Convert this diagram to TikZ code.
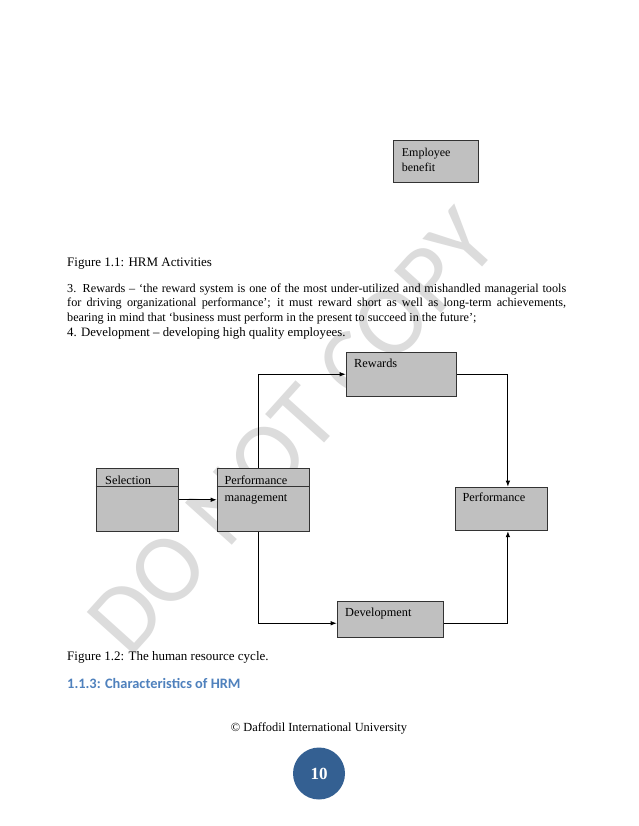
\documentclass[tikz,border=0pt]{standalone}
\usepackage{fontspec}
\setmainfont{Liberation Serif}
\newfontfamily\headfont{Carlito}
\usepackage{xcolor}
\usetikzlibrary{arrows.meta, calc, positioning}
\definecolor{boxgray}{RGB}{192,192,192}
\definecolor{headblue}{RGB}{79,129,189}
\definecolor{pageblue}{RGB}{52,96,146}
\definecolor{markgray}{RGB}{220,220,220}

\begin{document}
\begin{tikzpicture}[x=1pt, y=-1pt, >={Latex[length=6pt,width=4.5pt]},
    box/.style={draw=black!80, line width=1.1pt, fill=boxgray, anchor=north west, inner sep=0pt},
    lbl/.style={anchor=base west, inner sep=0pt, font=\fontsize{12.3}{14}\selectfont},
    txt/.style={anchor=base west, inner sep=0pt},
    link/.style={->, line width=0.9pt}]
    \fill[white] (0,0) rectangle (638,826);
    \useasboundingbox (0,0) rectangle (638,826);
    % watermark
    \node[markgray, rotate=48, font=\headfont\fontsize{98}{98}\selectfont] (wm) at (292,432) {DO NOT COPY};
    % employee benefit box
    \node[box, minimum width=85, minimum height=42] (emp) at (392.7,140) {};
    \node[lbl, font=\fontsize{12}{15}\selectfont, align=left] (empt) at ($(emp.north west)+(9,31.7)$) {Employee\\benefit};
    % text of the page
    \node[txt, font=\fontsize{13}{15}\selectfont] (fig11) at (67,266) {Figure 1.1: HRM Activities};
    \node[txt, font=\fontsize{12.2}{14}\selectfont] (par1) at (67,292.3)
        {\makebox[499pt][s]{3. Rewards – ‘the reward system is one of the most under-utilized and mishandled managerial tools}};
    \node[txt, font=\fontsize{12.2}{14}\selectfont] (par2) at (67,306.7)
        {\makebox[499pt][s]{for driving organizational performance’; it must reward short as well as long-term achievements,}};
    \node[txt, font=\fontsize{12.2}{14}\selectfont] (par3) at (67,321)
        {bearing in mind that ‘business must perform in the present to succeed in the future’;};
    \node[txt, font=\fontsize{12.8}{15}\selectfont] (par4) at (67,336) {4. Development – developing high quality employees.};
    % the cycle
    \node[box, minimum width=110.3, minimum height=44] (rw) at (345.7,351.7) {};
    \node[box, minimum width=82.6, minimum height=63] (sel) at (95.7,467.7) {};
    \node[box, minimum width=92.6, minimum height=63] (pm) at (216.7,467.7) {};
    \node[box, minimum width=91.7, minimum height=43.3] (perf) at (455,486.7) {};
    \node[box, minimum width=106.6, minimum height=36] (dev) at (336.7,600.7) {};
    \draw[draw=black!80, line width=1.1pt] ($(sel.north west)+(0,19)$) -- ($(sel.north east)+(0,19)$);
    \draw[draw=black!80, line width=1.1pt] ($(pm.north west)+(0,19)$) -- ($(pm.north east)+(0,19)$);
    \node[lbl] (rwt) at ($(rw.north west)+(8.3,15.6)$) {Rewards};
    \node[lbl] (selt) at ($(sel.north west)+(9.3,16.3)$) {Selection};
    \node[lbl, font=\fontsize{12.3}{17.7}\selectfont, align=left] (pmt) at ($(pm.north west)+(7.6,34)$) {Performance\\management};
    \node[lbl] (perft) at ($(perf.north west)+(7.3,15)$) {Performance};
    \node[lbl] (devt) at ($(dev.north west)+(8.3,16)$) {Development};
    \draw[link] (sel) -- (pm);
    \draw[link] ([xshift=-5.3pt]pm.north) |- (rw.west);
    \draw[link] (rw.east) -| ([xshift=6.5pt]perf.north);
    \draw[link] ([xshift=-5.3pt]pm.south) |- ([yshift=-4pt]dev.west);
    \draw[link] ([yshift=-4pt]dev.east) -| ([xshift=6.5pt]perf.south);
    % captions and footer
    \node[txt, font=\fontsize{13}{15}\selectfont] (fig12) at (67,660.5) {Figure 1.2: The human resource cycle.};
    \node[txt, text=headblue, font=\headfont\bfseries\fontsize{14.4}{16}\selectfont] (head) at (67,688) {1.1.3: Characteristics of HRM};
    \node[anchor=base, inner sep=0pt, font=\fontsize{12.4}{14}\selectfont] (copy) at (319,731.7) {© Daffodil International University};
    \node[circle, fill=pageblue, minimum size=52pt, inner sep=0pt, text=white,
        font=\bfseries\fontsize{17}{17}\selectfont] (pgno) at (319,773.5) {10};
\end{tikzpicture}
\end{document}
